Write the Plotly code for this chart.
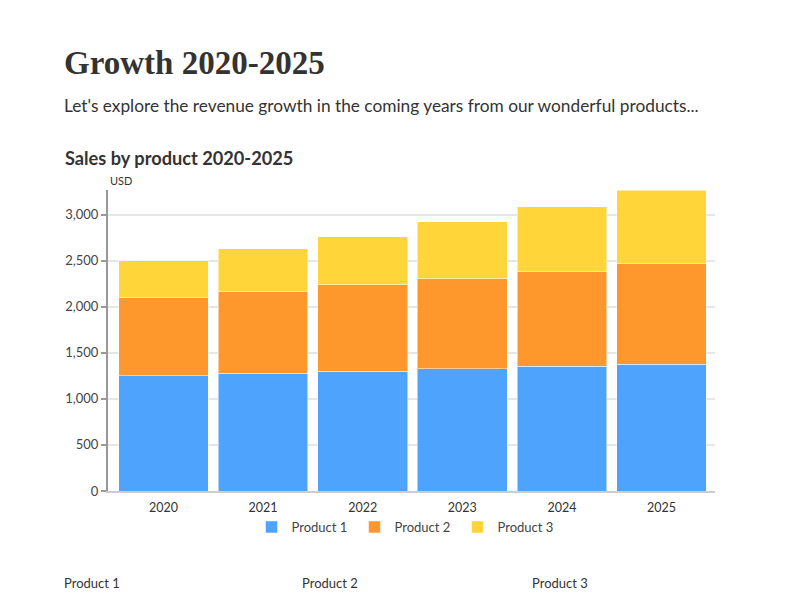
import plotly.graph_objects as go

years = ["2020", "2021", "2022", "2023", "2024", "2025"]
product1 = [1250, 1280, 1300, 1325, 1355, 1375]
product2 = [850, 885, 940, 980, 1025, 1090]
product3 = [400, 465, 520, 615, 705, 800]
series_names = ["Product 1", "Product 2", "Product 3"]
colors = ["#4ea3fd", "#fe982c", "#ffd53a"]

W, H = 800, 600
L, R, T, B = 108, 715, 190, 491


def px(x):
    return (x - L) / (R - L)


def py(y):
    return (B - y) / (B - T)


fig = go.Figure()
for name, vals, col in zip(series_names, [product1, product2, product3], colors):
    fig.add_trace(go.Bar(
        x=years, y=vals, name=name,
        marker=dict(color=col, line=dict(color="rgba(255,255,255,0.5)", width=1)),
    ))

sans = "Lato, 'Source Sans Pro', sans-serif"
serif = "'Liberation Serif', 'Source Serif Pro', serif"

annos = [
    dict(text="<b>Growth 2020-2025</b>", x=px(62), y=py(63), font=dict(family=serif, size=33, color="#333333")),
    dict(text="Let's explore the revenue growth in the coming years from our wonderful products...",
         x=px(62), y=py(105), font=dict(family=sans, size=17.3, color="#333333")),
    dict(text="<b>Sales by product 2020-2025</b>", x=px(63), y=py(158), font=dict(family=sans, size=18.2, color="#333333")),
    dict(text="USD", x=px(108), y=py(181), font=dict(family=sans, size=11, color="#333333")),
    dict(text="Product 1", x=px(62), y=py(583), font=dict(family=sans, size=13, color="#333333")),
    dict(text="Product 2", x=px(300), y=py(583), font=dict(family=sans, size=13, color="#333333")),
    dict(text="Product 3", x=px(530), y=py(583), font=dict(family=sans, size=13, color="#333333")),
]
for a in annos:
    fig.add_annotation(xref="paper", yref="paper", xanchor="left", yanchor="middle",
                       showarrow=False, **a)

fig.update_layout(
    width=W, height=H,
    margin=dict(l=L, r=W - R, t=T, b=H - B, pad=0),
    barmode="stack",
    bargap=0.1,
    paper_bgcolor="white",
    plot_bgcolor="white",
    font=dict(family=sans, size=13, color="#444444"),
    showlegend=True,
    legend=dict(orientation="h", x=px(406), xanchor="center", y=py(512), yanchor="top",
                font=dict(size=13, color="#444444"), traceorder="normal",
                itemwidth=30, tracegroupgap=0, entrywidth=58),
    xaxis=dict(range=[-0.557, 5.537], showgrid=False, showline=True, linecolor="#cccccc",
               linewidth=1.5, ticks="", ticklabelstandoff=4,
               tickfont=dict(size=12.5, color="#333333"), fixedrange=True),
    yaxis=dict(range=[0, 3267], tickvals=[0, 500, 1000, 1500, 2000, 2500, 3000],
               tickformat=",", showgrid=True, gridcolor="#e6e6e6", gridwidth=1.5,
               showline=True, linecolor="#999999", linewidth=2, ticks="outside",
               ticklen=5, tickcolor="#999999", tickwidth=2,
               tickfont=dict(size=13, color="#444444"), zeroline=False),
)

fig.write_html("out.html")
